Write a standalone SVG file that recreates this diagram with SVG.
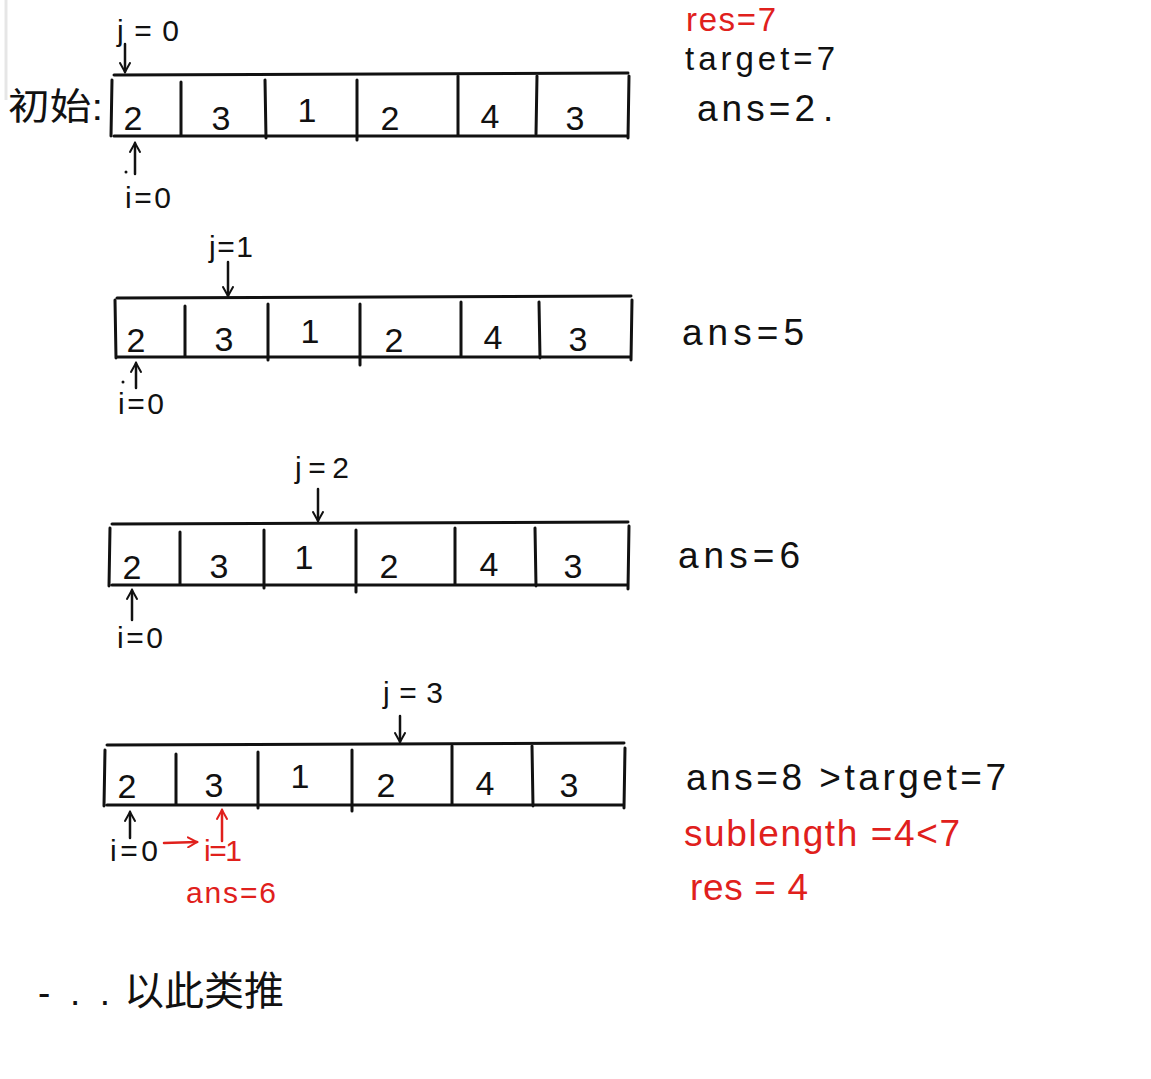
<svg xmlns="http://www.w3.org/2000/svg" width="1151" height="1079" viewBox="0 0 1151 1079">
<defs>
<style>
.bg{fill:#ffffff}
.ln{stroke:#111;stroke-width:3;stroke-linecap:round;fill:none}
.t{font-family:"Liberation Sans","Noto Sans CJK SC",sans-serif;fill:#111}
.num{font-size:34px;text-anchor:middle}
.lbl{font-size:30px}
.mid{font-size:33px}
.big{font-size:37px}
.red{fill:#e0201c}
.arr{stroke:#111;stroke-width:2.5;stroke-linecap:round;fill:none;marker-end:url(#h)}
.arrR{stroke:#e0201c;stroke-width:2.5;stroke-linecap:round;fill:none;marker-end:url(#hr)}
</style>
<marker id="h" viewBox="0 0 12 12" refX="10" refY="6" markerWidth="12" markerHeight="12" markerUnits="userSpaceOnUse" orient="auto">
<path d="M1,1 L10,6 L1,11" fill="none" stroke="#111" stroke-width="2" stroke-linecap="round"/>
</marker>
<marker id="hr" viewBox="0 0 12 12" refX="10" refY="6" markerWidth="12" markerHeight="12" markerUnits="userSpaceOnUse" orient="auto">
<path d="M1,1 L10,6 L1,11" fill="none" stroke="#e0201c" stroke-width="2" stroke-linecap="round"/>
</marker>
</defs>
<rect class="bg" x="0" y="0" width="1151" height="1079"/>
<line x1="6" y1="0" x2="6" y2="100" stroke="#e6e6e6" stroke-width="3"/>

<g id="array1">
<path class="ln" d="M114,75 L628,73 M114,136 L628,136 M112,80 L111,136 M181,82 L181,136 M265,80 L266,138 M357,80 L357,140 M458,76 L458,136 M537,76 L536,134 M629,76 L628,138"/>
<text class="t num" x="133" y="130">2</text>
<text class="t num" x="221" y="130">3</text>
<text class="t num" x="307" y="122">1</text>
<text class="t num" x="390" y="130">2</text>
<text class="t num" x="490" y="128">4</text>
<text class="t num" x="575" y="130">3</text>
</g>
<g id="label-init"><text class="t big" x="8" y="120" textLength="95" lengthAdjust="spacingAndGlyphs">初始:</text></g>
<g id="j0"><text class="t lbl" x="117" y="41" textLength="62" lengthAdjust="spacing">j=0</text></g>
<g id="i0a"><text class="t lbl" x="125" y="208" textLength="46" lengthAdjust="spacing">i=0</text></g>
<g id="info1">
<text class="t mid red" x="686" y="31" textLength="90" lengthAdjust="spacing">res=7</text>
<text class="t mid" x="685" y="70" textLength="150" lengthAdjust="spacing">target=7</text>
<text class="t big" x="697" y="121" textLength="118" lengthAdjust="spacing">ans=2</text>
<text class="t big" x="823" y="121">.</text>
</g>

<g id="array2">
<path class="ln" d="M117,298 L631,296 M117,357 L631,357 M115,300 L116,358 M185,306 L185,356 M268,304 L268,360 M360,304 L360,365 M461,302 L461,356 M539,302 L540,358 M632,300 L631,360"/>
<text class="t num" x="136" y="352">2</text>
<text class="t num" x="224" y="351">3</text>
<text class="t num" x="310" y="343">1</text>
<text class="t num" x="394" y="352">2</text>
<text class="t num" x="493" y="349">4</text>
<text class="t num" x="578" y="351">3</text>
</g>
<g id="j1"><text class="t lbl" x="209" y="257" textLength="44" lengthAdjust="spacing">j=1</text></g>
<g id="i0b"><text class="t lbl" x="118" y="414" textLength="46" lengthAdjust="spacing">i=0</text></g>
<g id="info2"><text class="t big" x="682" y="345" textLength="122" lengthAdjust="spacing">ans=5</text></g>

<g id="array3">
<path class="ln" d="M112,524 L628,522 M112,585 L628,585 M110,528 L109,586 M180,532 L180,584 M264,530 L264,588 M356,530 L356,592 M455,528 L455,585 M535,528 L536,586 M629,526 L628,589"/>
<text class="t num" x="132" y="579">2</text>
<text class="t num" x="219" y="578">3</text>
<text class="t num" x="304" y="569">1</text>
<text class="t num" x="389" y="578">2</text>
<text class="t num" x="489" y="576">4</text>
<text class="t num" x="573" y="578">3</text>
</g>
<g id="j2"><text class="t lbl" x="295" y="478" textLength="54" lengthAdjust="spacing">j=2</text></g>
<g id="i0c"><text class="t lbl" x="117" y="648" textLength="46" lengthAdjust="spacing">i=0</text></g>
<g id="info3"><text class="t big" x="678" y="568" textLength="122" lengthAdjust="spacing">ans=6</text></g>

<g id="array4">
<path class="ln" d="M107,745 L624,743 M107,805 L624,805 M105,750 L104,806 M176,754 L176,804 M258,752 L258,808 M352,750 L352,811 M452,746 L452,805 M532,746 L533,806 M625,748 L624,808"/>
<text class="t num" x="127" y="798">2</text>
<text class="t num" x="214" y="797">3</text>
<text class="t num" x="300" y="788">1</text>
<text class="t num" x="386" y="797">2</text>
<text class="t num" x="485" y="795">4</text>
<text class="t num" x="569" y="797">3</text>
</g>
<g id="j3"><text class="t lbl" x="383" y="703" textLength="60" lengthAdjust="spacing">j=3</text></g>
<g id="i0d"><text class="t lbl" x="110" y="861" textLength="48" lengthAdjust="spacing">i=0</text></g>
<g id="i1"><text class="t lbl red" x="204" y="861" textLength="38" lengthAdjust="spacing">i=1</text></g>
<g id="ans6red"><text class="t lbl red" x="186" y="903" textLength="90" lengthAdjust="spacing">ans=6</text></g>
<g id="info4">
<text class="t big" x="686" y="790" textLength="320" lengthAdjust="spacing">ans=8 &gt;target=7</text>
<text class="t big red" x="684" y="846" textLength="276" lengthAdjust="spacing">sublength =4&lt;7</text>
<text class="t big red" x="690" y="900" textLength="118" lengthAdjust="spacing">res = 4</text>
</g>

<g id="etc">
<text class="t big" x="38" y="1005" textLength="72" lengthAdjust="spacing">- . .</text>
<text class="t" x="124" y="1005" font-size="40" textLength="160" lengthAdjust="spacingAndGlyphs">以此类推</text>
</g>

<g id="connectors">
<path class="arr" d="M125,44 L125,72"/>
<path class="arr" d="M135,174 L135,143"/>
<circle cx="126" cy="172" r="1.5" fill="#111"/>
<path class="arr" d="M228,262 L228,296"/>
<path class="arr" d="M136,388 L136,363"/>
<circle cx="123" cy="382" r="1.5" fill="#111"/>
<path class="arr" d="M318,489 L318,521"/>
<path class="arr" d="M132,620 L132,590"/>
<path class="arr" d="M400,716 L400,742"/>
<path class="arr" d="M130,838 L130,812"/>
<path class="arrR" d="M164,843 L197,842"/>
<path class="arrR" d="M222,841 L222,810"/>
</g>
</svg>
